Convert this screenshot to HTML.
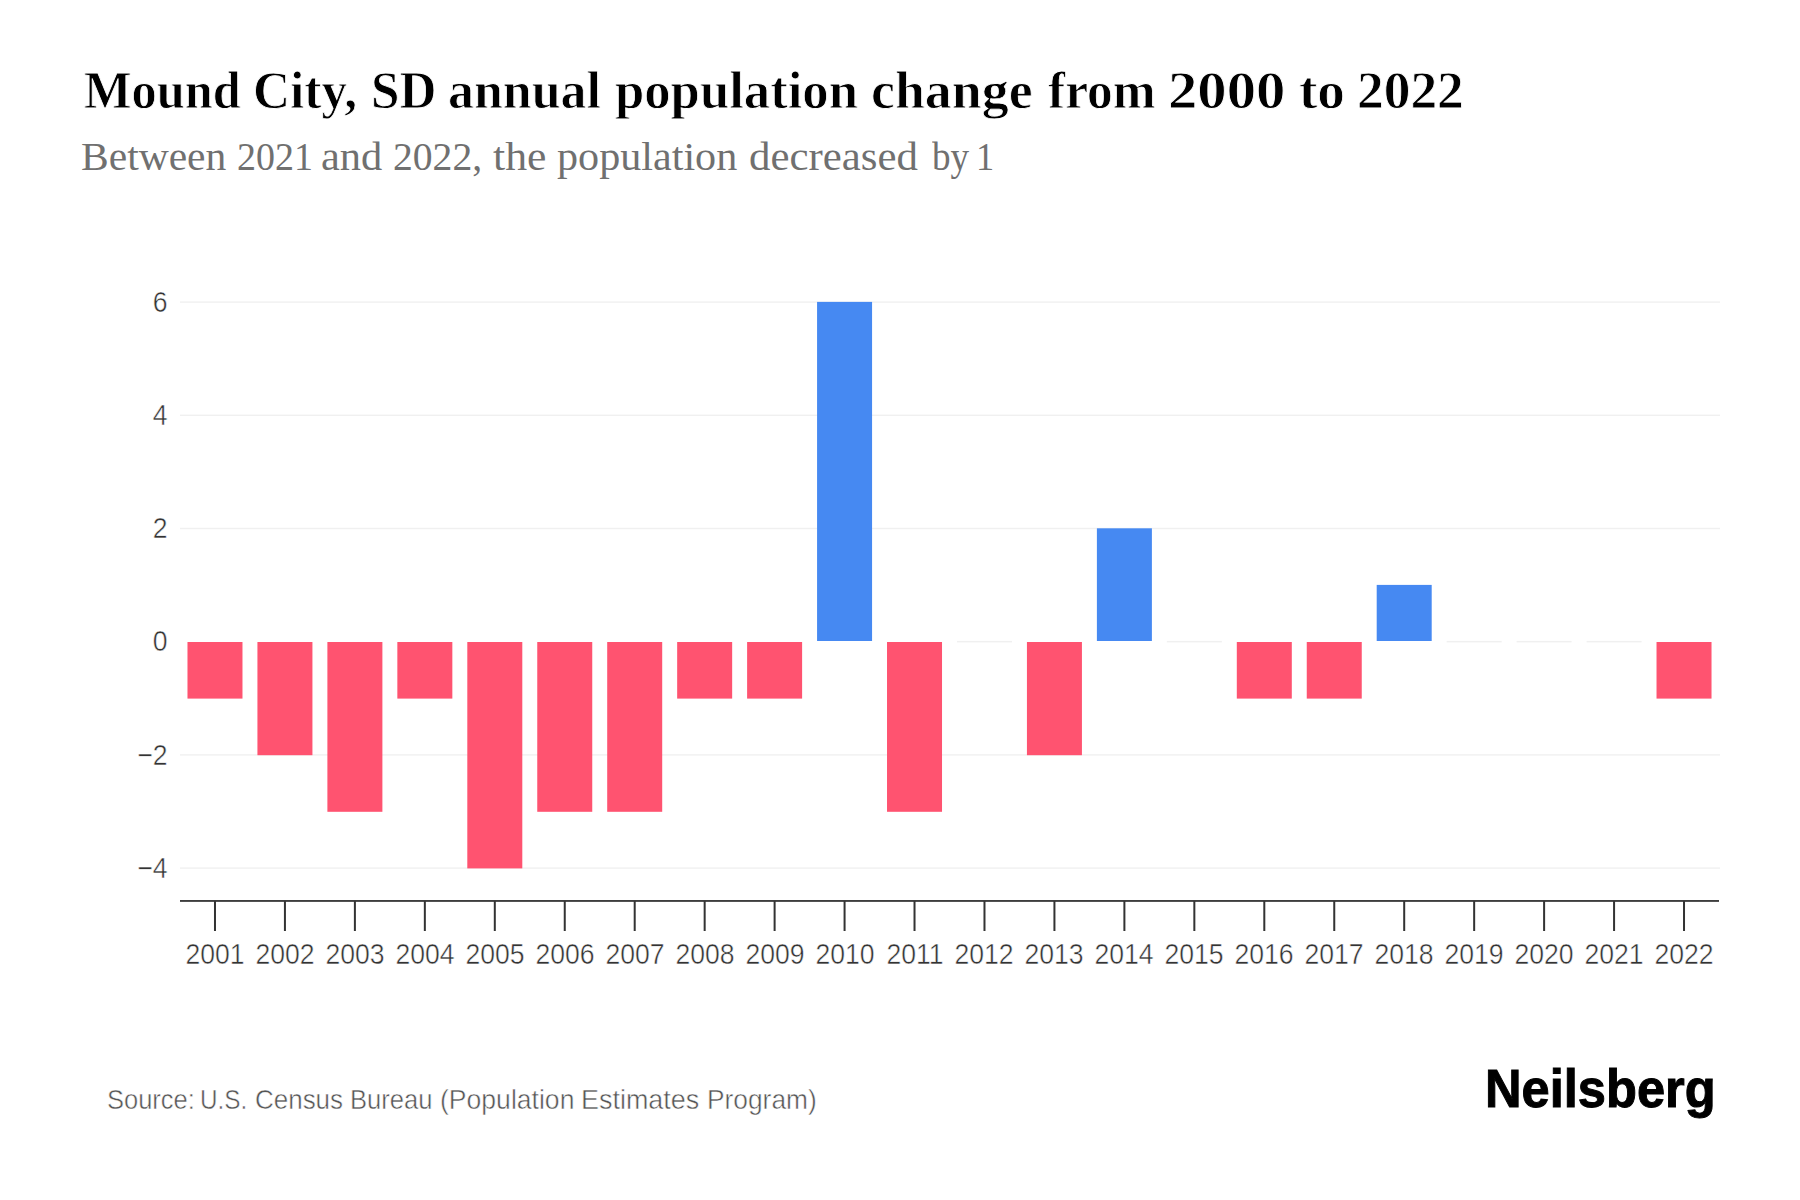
<!DOCTYPE html>
<html><head><meta charset="utf-8"><style>
html,body{margin:0;padding:0;background:#fff;}
body{width:1800px;height:1200px;position:relative;overflow:hidden;}
.t{position:absolute;white-space:nowrap;line-height:1;transform-origin:0 0;}
.tw{font:bold 53px "Liberation Serif",serif;color:#000;-webkit-text-stroke:0.8px #fff;}
.sw{font:39.5px "Liberation Serif",serif;color:#707070;}
.rw{font:27.5px "Liberation Sans",sans-serif;color:#555;transform:scaleX(0.946);-webkit-text-stroke:0.5px #fff;}
#logo{left:1485px;top:1057px;font:bold 54px "Liberation Sans",sans-serif;color:#000;transform:scaleX(0.9375);-webkit-text-stroke:1.0px #000;}
svg{position:absolute;left:0;top:0;}
.yl{position:absolute;right:1632.5px;font:29.5px/1 "Liberation Sans",sans-serif;color:#333;white-space:nowrap;transform:scaleX(0.9);transform-origin:100% 0;-webkit-text-stroke:0.5px #fff;}
.xl{position:absolute;top:938.7px;width:100px;text-align:center;font:29.5px/1 "Liberation Sans",sans-serif;color:#333;transform:scaleX(0.9);transform-origin:50% 0;-webkit-text-stroke:0.5px #fff;}
</style></head><body>
<svg width="1800" height="1200" viewBox="0 0 1800 1200">
<rect x="180" y="301.40" width="1540" height="1.4" fill="#f0f0f0"/>
<rect x="180" y="414.60" width="1540" height="1.4" fill="#f0f0f0"/>
<rect x="180" y="527.80" width="1540" height="1.4" fill="#f0f0f0"/>
<rect x="180" y="754.20" width="1540" height="1.4" fill="#f0f0f0"/>
<rect x="180" y="867.40" width="1540" height="1.4" fill="#f0f0f0"/>
<rect x="187.48" y="642.00" width="55" height="56.60" fill="#ff5370"/>
<rect x="257.43" y="642.00" width="55" height="113.20" fill="#ff5370"/>
<rect x="327.39" y="642.00" width="55" height="169.80" fill="#ff5370"/>
<rect x="397.34" y="642.00" width="55" height="56.60" fill="#ff5370"/>
<rect x="467.30" y="642.00" width="55" height="226.40" fill="#ff5370"/>
<rect x="537.25" y="642.00" width="55" height="169.80" fill="#ff5370"/>
<rect x="607.20" y="642.00" width="55" height="169.80" fill="#ff5370"/>
<rect x="677.16" y="642.00" width="55" height="56.60" fill="#ff5370"/>
<rect x="747.11" y="642.00" width="55" height="56.60" fill="#ff5370"/>
<rect x="817.07" y="301.90" width="55" height="339.10" fill="#4689f2"/>
<rect x="887.02" y="642.00" width="55" height="169.80" fill="#ff5370"/>
<rect x="956.98" y="640.90" width="55" height="1.5" fill="#f0f0f0"/>
<rect x="1026.93" y="642.00" width="55" height="113.20" fill="#ff5370"/>
<rect x="1096.89" y="528.30" width="55" height="112.70" fill="#4689f2"/>
<rect x="1166.84" y="640.90" width="55" height="1.5" fill="#f0f0f0"/>
<rect x="1236.80" y="642.00" width="55" height="56.60" fill="#ff5370"/>
<rect x="1306.75" y="642.00" width="55" height="56.60" fill="#ff5370"/>
<rect x="1376.70" y="584.90" width="55" height="56.10" fill="#4689f2"/>
<rect x="1446.66" y="640.90" width="55" height="1.5" fill="#f0f0f0"/>
<rect x="1516.61" y="640.90" width="55" height="1.5" fill="#f0f0f0"/>
<rect x="1586.57" y="640.90" width="55" height="1.5" fill="#f0f0f0"/>
<rect x="1656.52" y="642.00" width="55" height="56.60" fill="#ff5370"/>
<rect x="180" y="900.1" width="1539" height="1.7" fill="#2a2a2a"/>
<rect x="213.98" y="901" width="2" height="30" fill="#333"/>
<rect x="283.93" y="901" width="2" height="30" fill="#333"/>
<rect x="353.89" y="901" width="2" height="30" fill="#333"/>
<rect x="423.84" y="901" width="2" height="30" fill="#333"/>
<rect x="493.80" y="901" width="2" height="30" fill="#333"/>
<rect x="563.75" y="901" width="2" height="30" fill="#333"/>
<rect x="633.70" y="901" width="2" height="30" fill="#333"/>
<rect x="703.66" y="901" width="2" height="30" fill="#333"/>
<rect x="773.61" y="901" width="2" height="30" fill="#333"/>
<rect x="843.57" y="901" width="2" height="30" fill="#333"/>
<rect x="913.52" y="901" width="2" height="30" fill="#333"/>
<rect x="983.48" y="901" width="2" height="30" fill="#333"/>
<rect x="1053.43" y="901" width="2" height="30" fill="#333"/>
<rect x="1123.39" y="901" width="2" height="30" fill="#333"/>
<rect x="1193.34" y="901" width="2" height="30" fill="#333"/>
<rect x="1263.30" y="901" width="2" height="30" fill="#333"/>
<rect x="1333.25" y="901" width="2" height="30" fill="#333"/>
<rect x="1403.20" y="901" width="2" height="30" fill="#333"/>
<rect x="1473.16" y="901" width="2" height="30" fill="#333"/>
<rect x="1543.11" y="901" width="2" height="30" fill="#333"/>
<rect x="1613.07" y="901" width="2" height="30" fill="#333"/>
<rect x="1683.02" y="901" width="2" height="30" fill="#333"/>
</svg>
<div class="yl" style="top:286.87px">6</div>
<div class="yl" style="top:400.07px">4</div>
<div class="yl" style="top:513.27px">2</div>
<div class="yl" style="top:626.47px">0</div>
<div class="yl" style="top:739.67px">−2</div>
<div class="yl" style="top:852.87px">−4</div>
<div class="xl" style="left:164.98px">2001</div>
<div class="xl" style="left:234.93px">2002</div>
<div class="xl" style="left:304.89px">2003</div>
<div class="xl" style="left:374.84px">2004</div>
<div class="xl" style="left:444.80px">2005</div>
<div class="xl" style="left:514.75px">2006</div>
<div class="xl" style="left:584.70px">2007</div>
<div class="xl" style="left:654.66px">2008</div>
<div class="xl" style="left:724.61px">2009</div>
<div class="xl" style="left:794.57px">2010</div>
<div class="xl" style="left:864.52px">2011</div>
<div class="xl" style="left:934.48px">2012</div>
<div class="xl" style="left:1004.43px">2013</div>
<div class="xl" style="left:1074.39px">2014</div>
<div class="xl" style="left:1144.34px">2015</div>
<div class="xl" style="left:1214.30px">2016</div>
<div class="xl" style="left:1284.25px">2017</div>
<div class="xl" style="left:1354.20px">2018</div>
<div class="xl" style="left:1424.16px">2019</div>
<div class="xl" style="left:1494.11px">2020</div>
<div class="xl" style="left:1564.07px">2021</div>
<div class="xl" style="left:1634.02px">2022</div>
<div class="t tw" style="left:83.75px;top:60px;transform:scaleX(0.9500)">Mound</div>
<div class="t tw" style="left:253.06px;top:60px;transform:scaleX(0.9691)">City,</div>
<div class="t tw" style="left:370.57px;top:60px;transform:scaleX(0.9649)">SD</div>
<div class="t tw" style="left:447.77px;top:60px;transform:scaleX(0.9794)">annual</div>
<div class="t tw" style="left:615.00px;top:60px;transform:scaleX(0.9937)">population</div>
<div class="t tw" style="left:871.48px;top:60px;transform:scaleX(1.0160)">change</div>
<div class="t tw" style="left:1047.50px;top:60px;transform:scaleX(0.9710)">from</div>
<div class="t tw" style="left:1167.79px;top:60px;transform:scaleX(1.1073)">2000</div>
<div class="t tw" style="left:1298.90px;top:60px;transform:scaleX(1.0410)">to</div>
<div class="t tw" style="left:1356.88px;top:60px;transform:scaleX(1.0078)">2022</div>
<div class="t sw" style="left:81.45px;top:133.8px;transform:scaleX(1.0514)">Between</div>
<div class="t sw" style="left:237.04px;top:133.8px;transform:scaleX(0.9607)">2021</div>
<div class="t sw" style="left:320.93px;top:133.8px;transform:scaleX(1.0749)">and</div>
<div class="t sw" style="left:392.75px;top:133.8px;transform:scaleX(1.0029)">2022,</div>
<div class="t sw" style="left:492.80px;top:133.8px;transform:scaleX(1.1064)">the</div>
<div class="t sw" style="left:557.00px;top:133.8px;transform:scaleX(1.0668)">population</div>
<div class="t sw" style="left:748.92px;top:133.8px;transform:scaleX(1.0843)">decreased</div>
<div class="t sw" style="left:931.60px;top:133.8px;transform:scaleX(0.9384)">by</div>
<div class="t sw" style="left:976.34px;top:133.8px;transform:scaleX(0.9200)">1</div>
<div class="t rw" style="left:106.67px;top:1083.5px;transform:scaleX(0.9269)">Source:</div>
<div class="t rw" style="left:200.23px;top:1083.5px;transform:scaleX(0.8828)">U.S.</div>
<div class="t rw" style="left:254.66px;top:1083.5px;transform:scaleX(0.9443)">Census</div>
<div class="t rw" style="left:349.74px;top:1083.5px;transform:scaleX(0.9299)">Bureau</div>
<div class="t rw" style="left:440.13px;top:1083.5px;transform:scaleX(0.9662)">(Population</div>
<div class="t rw" style="left:581.34px;top:1083.5px;transform:scaleX(0.9798)">Estimates</div>
<div class="t rw" style="left:706.99px;top:1083.5px;transform:scaleX(0.9574)">Program)</div>
<div class="t" id="logo">Neilsberg</div>
</body></html>
